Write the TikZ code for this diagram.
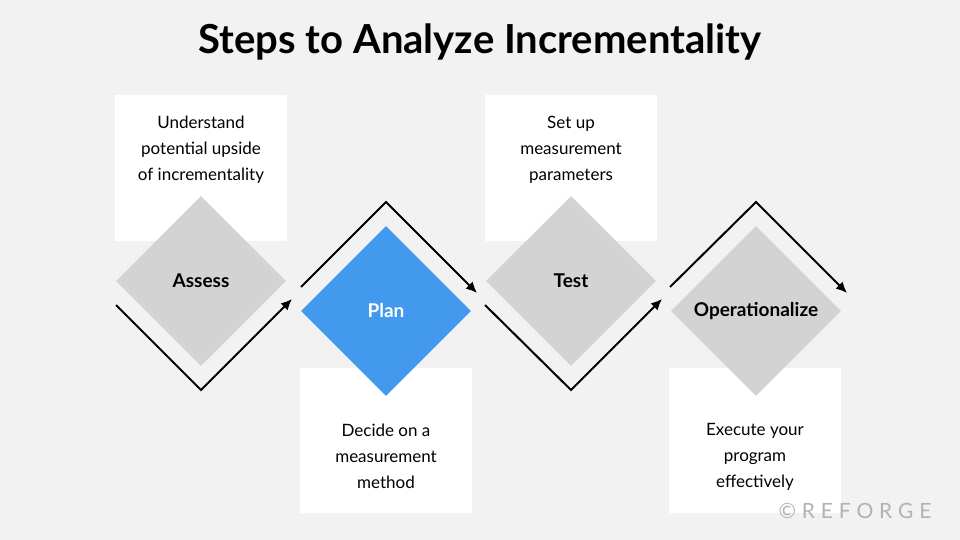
\documentclass[tikz,border=0pt]{standalone}
\usepackage{fontspec}
\setmainfont{Lato}
\usetikzlibrary{shapes.geometric,arrows.meta}
\definecolor{bgGray}{HTML}{F2F2F2}
\definecolor{stageGray}{HTML}{D3D3D3}
\definecolor{stageBlue}{HTML}{4399EE}
\tikzset{>=latex}
\tikzstyle{note}=[fill=white,minimum width=172pt,minimum height=145pt,inner sep=0pt,align=center,font=\fontsize{17}{26}\selectfont]
\tikzstyle{stage}=[diamond,fill=stageGray,minimum width=170pt,minimum height=170pt,inner sep=0pt,font=\bfseries\fontsize{19}{22}\selectfont]
\tikzstyle{chevron}=[line width=2pt,-{Latex[length=11pt,width=10pt]}]
\begin{document}
\begin{tikzpicture}[x=1pt,y=-1pt]
  \fill[bgGray] (0,0) rectangle (960,540);
  \useasboundingbox (0,0) rectangle (960,540);

  \node[font=\bfseries\fontsize{40}{46}\selectfont] (title) at (480,42) {Steps to Analyze Incrementality};

  % notes
  \node[note] (noteAssess) at (201,168) {Understand\\potential upside\\of incrementality\\[14pt]};
  \node[note] (notePlan) at (386,440) {\\[19pt]Decide on a\\measurement\\method};
  \node[note] (noteTest) at (571,168) {Set up\\measurement\\parameters\\[14pt]};
  \node[note] (noteOps) at (755,440) {\\[19pt]Execute your\\program\\effectively};

  % stages
  \node[stage] (assess) at (201,281) {Assess};
  \node[stage,fill=stageBlue,text=white] (plan) at (386,311) {Plan};
  \node[stage] (test) at (571,281) {Test};
  \node[stage] (ops) at (756,311) {Operationalize};

  % chevrons
  \coordinate (c1s) at (116,305); \coordinate (c1m) at (201,390); \coordinate (c1e) at (292,299);
  \coordinate (c2s) at (301,287); \coordinate (c2m) at (386,202); \coordinate (c2e) at (477,293);
  \coordinate (c3s) at (485,305); \coordinate (c3m) at (571,390); \coordinate (c3e) at (662,299);
  \coordinate (c4s) at (670,287); \coordinate (c4m) at (756,202); \coordinate (c4e) at (847,293);
  \foreach \i in {1,2,3,4}{
    \draw[chevron] (c\i s) -- (c\i m) -- (c\i e);
  }

  \node[text=black!30,font=\fontsize{21}{22}\selectfont] (mark) at (855,511) {©\;R\;E\;F\;O\;R\;G\;E};
\end{tikzpicture}
\end{document}
